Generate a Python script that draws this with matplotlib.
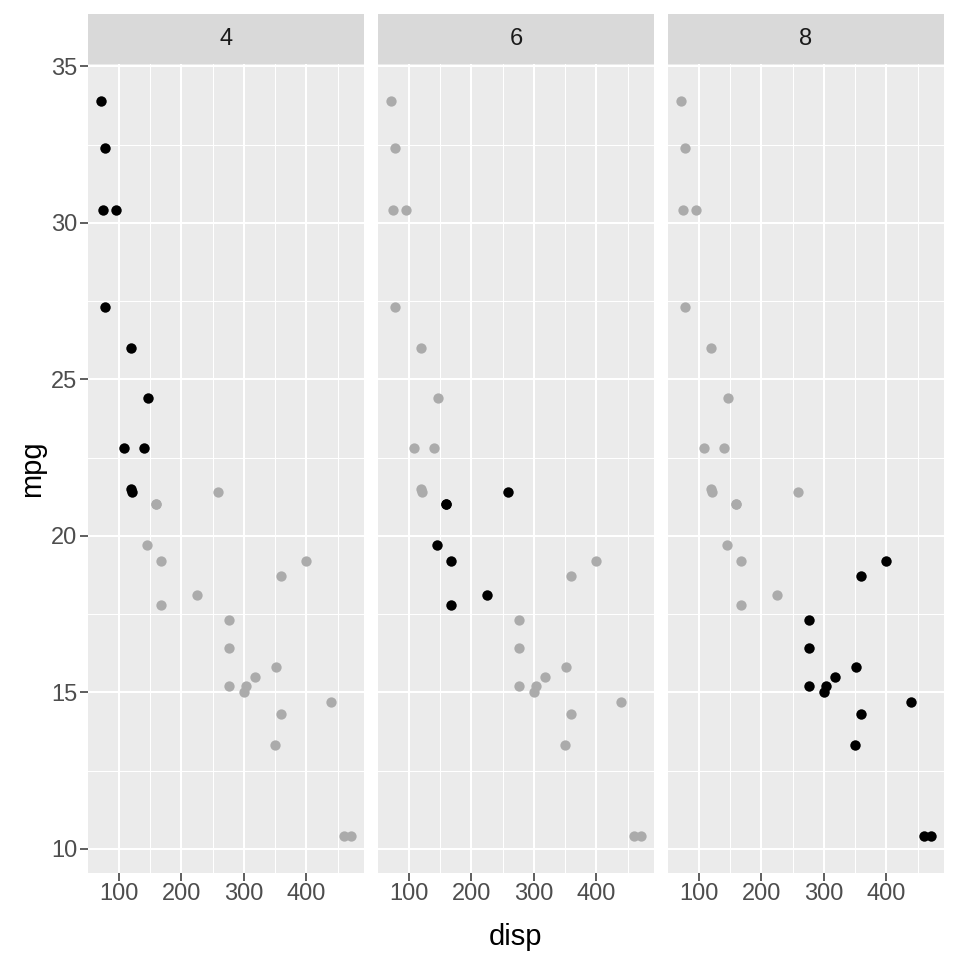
import numpy as np
import matplotlib
matplotlib.use('Agg')
import matplotlib.pyplot as plt
from matplotlib.patches import Rectangle

# mtcars: disp, mpg, cyl
disp = [160, 160, 108, 258, 360, 225, 360, 146.7, 140.8, 167.6, 167.6, 275.8,
        275.8, 275.8, 472, 460, 440, 78.7, 75.7, 71.1, 120.1, 318, 304, 350,
        400, 79, 120.3, 95.1, 351, 145, 301, 121]
mpg = [21.0, 21.0, 22.8, 21.4, 18.7, 18.1, 14.3, 24.4, 22.8, 19.2, 17.8, 16.4,
       17.3, 15.2, 10.4, 10.4, 14.7, 32.4, 30.4, 33.9, 21.5, 15.5, 15.2, 13.3,
       19.2, 27.3, 26.0, 30.4, 15.8, 19.7, 15.0, 21.4]
cyl = [6, 6, 4, 6, 8, 6, 8, 4, 4, 6, 6, 8, 8, 8, 8, 8, 8, 4, 4, 4, 4, 8, 8, 8,
       8, 4, 4, 4, 8, 6, 8, 4]
panels = [4, 6, 8]
x_ticks = [100, 200, 300, 400]
y_ticks = [10, 15, 20, 25, 30, 35]

plt.rcParams['font.family'] = ['Liberation Sans', 'DejaVu Sans']

disp = np.array(disp)
mpg = np.array(mpg)
cyl = np.array(cyl)

W = H = 960
fig = plt.figure(figsize=(9.6, 9.6), dpi=100)

xlo, xhi = disp.min(), disp.max()
ylo, yhi = mpg.min(), mpg.max()
xpad = (xhi - xlo) * 0.05
ypad = (yhi - ylo) * 0.05

top, bottom = 64, 873
strip_top = 14
lefts = [88, 378, 668]
pw = 276

for i, c in enumerate(panels):
    ax = fig.add_axes([lefts[i] / W, 1 - bottom / H, pw / W, (bottom - top) / H])
    ax.set_facecolor('#EBEBEB')
    ax.set_xlim(xlo - xpad, xhi + xpad)
    ax.set_ylim(ylo - ypad, yhi + ypad)
    for s in ax.spines.values():
        s.set_visible(False)
    # grid
    for v in [150, 250, 350, 450]:
        ax.axvline(v, color='white', lw=0.75, zorder=0.5)
    for v in [12.5, 17.5, 22.5, 27.5, 32.5]:
        ax.axhline(v, color='white', lw=0.75, zorder=0.5)
    for v in x_ticks:
        ax.axvline(v, color='white', lw=1.5, zorder=0.6)
    for v in y_ticks:
        ax.axhline(v, color='white', lw=1.5, zorder=0.6)
    ax.scatter(disp, mpg, s=55, color='#ABABAB', linewidths=0, zorder=2)
    m = cyl == c
    ax.scatter(disp[m], mpg[m], s=55, color='black', linewidths=0, zorder=3)
    ax.set_xticks(x_ticks)
    ax.set_xticklabels([str(t) for t in x_ticks])
    ax.set_yticks(y_ticks)
    if i == 0:
        ax.set_yticklabels([str(t) for t in y_ticks])
        ax.tick_params(axis='y', length=5.5, width=1.1, color='#333333',
                       labelsize=17, labelcolor='#4D4D4D', pad=2)
    else:
        ax.tick_params(axis='y', left=False, labelleft=False)
    ax.tick_params(axis='x', length=5.5, width=1.1, color='#333333',
                   labelsize=17, labelcolor='#4D4D4D', pad=2)
    # strip
    fig.patches.append(Rectangle((lefts[i] / W, 1 - top / H), pw / W,
                                 (top - strip_top) / H, transform=fig.transFigure,
                                 facecolor='#D9D9D9', edgecolor='none'))
    fig.text((lefts[i] + pw / 2) / W, 1 - (top + strip_top) / 2 / H, str(c),
             ha='center', va='center', fontsize=17, color='#1A1A1A')

fig.text((lefts[0] + lefts[2] + pw) / 2 / W, 1 - 937 / H, 'disp',
         ha='center', va='center', fontsize=21, color='black')
fig.text(32 / W, 1 - (top + bottom) / 2 / H, 'mpg', rotation=90,
         ha='center', va='center', fontsize=21, color='black')

fig.savefig('out.png', dpi=100, facecolor='white')
